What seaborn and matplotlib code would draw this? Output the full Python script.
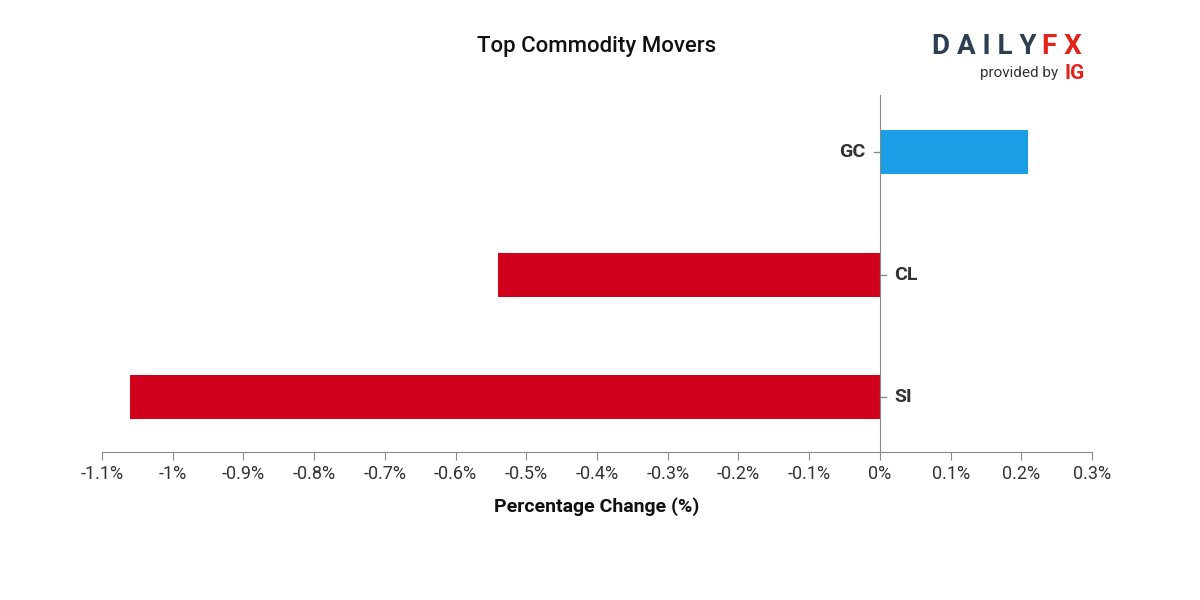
import matplotlib
matplotlib.use("Agg")
import matplotlib.pyplot as plt
import seaborn as sns
import pandas as pd

symbols = ["GC", "CL", "SI"]
changes = [0.209, -0.54, -1.061]
xticks = [-1.1, -1.0, -0.9, -0.8, -0.7, -0.6, -0.5, -0.4, -0.3, -0.2, -0.1, 0.0, 0.1, 0.2, 0.3]
xtick_labels = ["-1.1%", "-1%", "-0.9%", "-0.8%", "-0.7%", "-0.6%", "-0.5%", "-0.4%", "-0.3%", "-0.2%", "-0.1%", "0%", "0.1%", "0.2%", "0.3%"]

df = pd.DataFrame({"sym": symbols, "chg": changes})
colors = ["#1a9fe6" if v > 0 else "#d0021b" for v in changes]

plt.rcParams["font.family"] = "Roboto"
fig = plt.figure(figsize=(12, 6), dpi=100)
ax = fig.add_axes([0.085, 0.247, 0.825, 0.595])
sns.barplot(data=df, x="chg", y="sym", hue="sym", palette=colors, legend=False,
            width=0.36, orient="h", ax=ax, saturation=1)
ax.set_xlim(-1.1, 0.3)
ax.set_ylim(2.45, -0.47)
ax.set_xticks(xticks)
ax.set_xticklabels(xtick_labels, fontsize=13, color="#333333")
ax.tick_params(axis="x", length=6, color="#888888")
ax.set_yticks([])
ax.set_ylabel("")
ax.set_xlabel("Percentage Change (%)", fontsize=14, fontweight="bold", color="#111111", labelpad=10)
for s in ["top", "right"]:
    ax.spines[s].set_visible(False)
ax.spines["left"].set_position(("data", 0))
ax.spines["left"].set_color("#888888")
ax.spines["bottom"].set_color("#888888")
for i, (s, v) in enumerate(zip(symbols, changes)):
    if v > 0:
        ax.plot([-0.008, 0], [i, i], color="#888888", lw=1)
        ax.text(-0.02, i, s, ha="right", va="center", fontsize=14, fontweight="bold", color="#333333")
    else:
        ax.plot([0, 0.008], [i, i], color="#888888", lw=1)
        ax.text(0.02, i, s, ha="left", va="center", fontsize=14, fontweight="bold", color="#333333")

fig.text(0.497, 0.923, "Top Commodity Movers", ha="center", va="center", fontsize=16, fontweight="medium", color="#111111")
fig.text(0.864, 0.923, "D A I L Y", ha="right", va="center", fontsize=20, fontweight="bold", color="#2c3e50")
fig.text(0.868, 0.923, "F X", ha="left", va="center", fontsize=20, fontweight="bold", color="#e2231a")
fig.text(0.882, 0.878, "provided by", ha="right", va="center", fontsize=11, color="#333333")
fig.text(0.887, 0.878, "IG", ha="left", va="center", fontsize=15, fontweight="bold", color="#e2231a")
fig.savefig("out.png", dpi=100)
